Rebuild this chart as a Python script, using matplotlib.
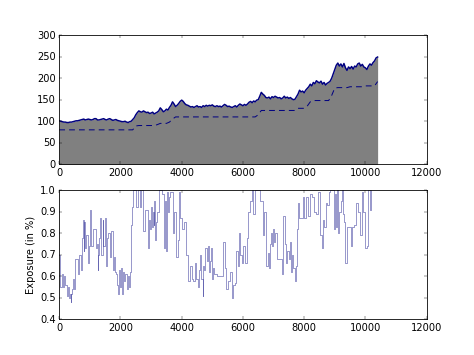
import numpy as np
import matplotlib
matplotlib.use("Agg")
import matplotlib.pyplot as plt

# portfolio value, sampled every 50 steps
value = [101, 100, 99, 98, 98, 97, 97, 98, 98, 99, 100, 101, 101, 102, 103, 104, 105, 103, 104, 105,
         104, 103, 104, 106, 106, 103, 103, 104, 105, 106, 104, 103, 105, 106, 104, 102, 103, 104, 102, 101,
         100,
         99, 99, 100, 98, 97, 99, 100, 104, 108, 115, 120, 124, 122, 121, 124, 122, 120, 121, 118, 119,
         121, 117, 119, 121, 124, 131, 127, 122, 124, 128, 126, 132, 137, 145, 140, 134, 137, 141, 146, 149,
         146, 141, 138, 137, 135, 133, 134, 132, 134, 136, 133, 134, 132, 136, 134, 137, 135, 137, 136, 138,
         135, 134, 136, 134, 135, 133, 136, 139, 137, 134, 135, 133, 132, 134, 136, 133, 137, 140, 138, 136,
         139, 137, 140, 144, 146, 143, 147, 145, 149, 150, 158, 167, 163, 160, 155, 154, 156, 152, 157, 155,
         158, 156, 154, 155, 152, 154, 158, 154, 156, 153, 155, 152, 150, 151, 157, 163, 172, 168, 170, 166,
         172, 176, 180, 186, 182, 190, 187, 194, 191, 189, 193, 186, 190, 184, 188, 190, 193, 200, 210, 220,
         230, 235, 228, 233, 226, 234, 224, 218, 226, 222, 227, 221, 228, 226, 233, 235, 228, 232, 226, 224,
         220, 228, 233, 230, 236, 240, 247, 249]
steps = np.arange(0, 50 * len(value), 50)

# floor level (dashed), sampled every 100 steps
floor = [80] * 25 + [89] + [90] * 6 + [92] + [95] * 3 + [98, 105] + \
        [110] * 27 + [115] + [125] * 12 + [130] * 3 + [135, 145] + \
        [148] * 6 + [160, 177] + [178] * 4 + [180] * 5 + [182] * 4 + [192]
floor_steps = np.arange(0, 100 * len(floor), 100)

# exposure changes: (start step, exposure)
exp_x = [0, 40, 80, 120, 160, 200, 240, 280, 310, 340, 370, 400, 430, 460, 490,
         520, 620, 660, 700, 740, 770, 800, 820, 850, 890, 930, 960, 1000, 1030,
         1110, 1190, 1220, 1250, 1280, 1310, 1340, 1380, 1420, 1440, 1480, 1520,
         1560, 1600, 1650, 1700, 1740, 1780, 1820, 1860, 1890, 1910, 1940, 1980,
         2010, 2050, 2090, 2120, 2160, 2200, 2240, 2270, 2300, 2330, 2380, 2420,
         2520, 2580, 2640, 2680, 2720, 2750, 2800, 2910, 2940, 2960, 2990, 3020,
         3050, 3080, 3110, 3140, 3170, 3200, 3270, 3350, 3410, 3440, 3480, 3510,
         3550, 3580, 3620, 3700, 3760, 3830, 3870, 3910, 3960, 4000, 4080, 4150,
         4210, 4260, 4330, 4380, 4420, 4470, 4520, 4560, 4590, 4620, 4680, 4700,
         4730, 4770, 4820, 4860, 4900, 4930, 4960, 4990, 5020, 5060, 5150, 5360,
         5410, 5460, 5520, 5580, 5630, 5680, 5740, 5790, 5830, 5880, 5920, 5960,
         6010, 6060, 6120, 6180, 6240, 6290, 6340, 6380, 6460, 6560, 6670, 6700,
         6740, 6770, 6820, 6860, 6900, 6930, 6960, 6990, 7030, 7060, 7100, 7200,
         7280, 7320, 7370, 7400, 7440, 7490, 7530, 7580, 7610, 7650, 7690, 7730,
         7760, 7800, 7830, 7900, 7950, 8000, 8050, 8120, 8180, 8250, 8320, 8400,
         8460, 8520, 8570, 8610, 8660, 8700, 8760, 8800, 8860, 8960, 9000, 9030,
         9070, 9110, 9150, 9190, 9230, 9260, 9290, 9340, 9400, 9470, 9530, 9570,
         9620, 9700, 9760, 9820, 9880, 9930, 9990, 10050, 10100, 10140, 10180, 10200]
exp_y = [0.70, 0.55, 0.61, 0.55, 0.60, 0.56, 0.51, 0.55, 0.50, 0.52, 0.48, 0.52, 0.54, 0.59, 0.54,
         0.68, 0.61, 0.70, 0.63, 0.78, 0.86, 0.72, 0.85, 0.73, 0.79, 0.66, 0.74, 0.91, 0.74,
         0.82, 0.73, 0.75, 0.63, 0.70, 0.78, 0.87, 0.70, 0.86, 0.74, 0.87, 0.65,
         0.78, 0.80, 0.69, 0.81, 0.63, 0.69, 0.62, 0.61, 0.56, 0.52, 0.63, 0.55,
         0.64, 0.52, 0.62, 0.58, 0.61, 0.54, 0.60, 0.55, 0.62, 0.84, 0.92, 1.00,
         0.92, 1.00, 0.92, 1.00, 0.95, 0.81, 0.91, 0.73, 0.86, 0.82, 0.92, 0.83,
         0.90, 0.84, 0.95, 0.77, 0.85, 0.90, 1.00, 0.98, 0.73, 0.95, 0.72, 0.99,
         0.90, 0.97, 0.99, 0.80, 0.90, 0.69, 0.77, 0.99, 0.87, 0.82, 0.85, 0.70,
         0.58, 0.65, 0.59, 0.58, 0.66, 0.59, 0.55, 0.63, 0.70, 0.59, 0.51, 0.65,
         0.63, 0.73, 0.67, 0.74, 0.62, 0.67, 0.73, 0.59, 0.64, 0.61, 0.60, 0.76,
         0.64, 0.54, 0.58, 0.62, 0.50, 0.56, 0.57, 0.72, 0.65, 0.80, 0.70, 0.66,
         0.74, 0.66, 0.78, 0.90, 0.95, 1.00, 0.89, 1.00, 1.00, 0.95, 0.79, 0.90,
         0.79, 0.65, 0.71, 0.64, 0.75, 0.80, 0.74, 0.82, 0.76, 0.80, 0.68, 0.68,
         0.61, 0.88, 0.75, 0.66, 0.72, 0.68, 0.76, 0.62, 0.70, 0.64, 0.58, 0.65,
         0.82, 0.94, 0.87, 0.87, 0.97, 0.87, 0.97, 0.88, 0.98, 0.97, 0.90, 0.89,
         0.99, 0.79, 0.73, 0.86, 0.83, 0.94, 0.93, 0.99, 1.00, 0.82, 0.98, 0.83,
         1.00, 0.80, 0.90, 0.95, 1.00, 0.89, 0.85, 0.66, 0.83, 0.83, 0.74, 0.83,
         0.84, 0.94, 0.90, 0.79, 0.99, 0.90, 0.73, 0.74, 1.00, 0.91, 1.00, 1.00]

plt.style.use('classic')
fig = plt.figure(figsize=(8, 6), dpi=59.25, facecolor='white')

ax1 = fig.add_subplot(211)
ax1.fill_between(steps, 0, value, color='grey', linewidth=0)
ax1.plot(steps, value, color='navy', linewidth=1.8)
ax1.plot(floor_steps, floor, color='navy', linestyle='--', dashes=(7, 5), linewidth=1.2)
ax1.set_xlim(0, 12000)
ax1.set_ylim(0, 300)

ax2 = fig.add_subplot(212)
ax2.plot(exp_x, exp_y, color='navy', drawstyle='steps-post', linewidth=0.8, alpha=0.6)
ax2.set_xlim(0, 12000)
ax2.set_ylim(0.4, 1.0)
ax2.set_ylabel('Exposure (in %)')

fig.savefig('out.png', dpi=59.25, facecolor='white')
